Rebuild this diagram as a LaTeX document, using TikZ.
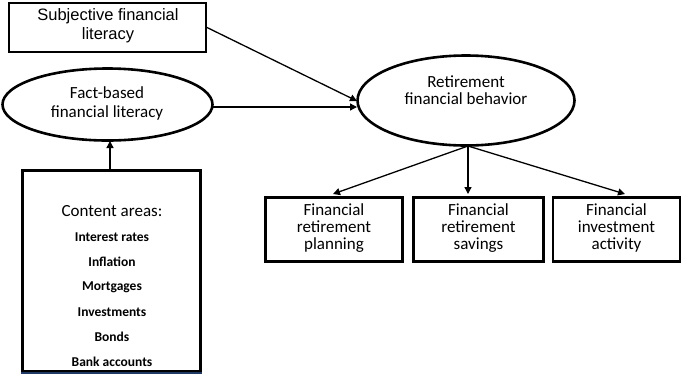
\documentclass[tikz,border=0pt]{standalone}
\usepackage{fontspec}
\setmainfont{Carlito}
\newfontfamily\arialfont{Liberation Sans}
\usetikzlibrary{arrows.meta,shapes.geometric}
\definecolor{navy}{HTML}{1F3864}
\begin{document}
\begin{tikzpicture}[x=1pt,y=-1pt,
  box/.style={draw,line width=2.4pt,inner sep=0pt},
  ell/.style={draw,line width=2.6pt,ellipse,inner sep=0pt},
  conn/.style={line width=1.3pt,-{Triangle[length=7pt,width=7pt]}},
  bigtxt/.style={font=\fontsize{17}{17}\selectfont,align=center},
  itemtxt/.style={font=\fontsize{13.5}{13.5}\selectfont\bfseries}]
\useasboundingbox (0,0) rectangle (685,373);
% Subjective box
\node[box,minimum width=197pt,minimum height=49pt] (subj) at (107.5,27.5) {};
\node[font=\arialfont\fontsize{16.5}{19}\selectfont,align=center] (subjt) at (108,26) {Subjective financial\\literacy};
% Fact-based ellipse
\node[ell,minimum width=210pt,minimum height=72pt] (fact) at (107.5,104.5) {};
\node[font=\fontsize{17}{19}\selectfont,align=center] (factt) at (107,103) {Fact-based\\financial literacy};
% Retirement ellipse
\node[ell,minimum width=217pt,minimum height=90pt] (ret) at (466,100.5) {};
\node[font=\fontsize{17}{17}\selectfont,align=center] (rett) at (466,90) {Retirement\\financial behavior};
% Content box
\node[box,minimum width=178pt,minimum height=201pt] (cont) at (111.5,271) {};
\draw[navy,line width=2.4pt] (cont.south west) -- (cont.south east);
\node[font=\fontsize{17}{17}\selectfont] (ca) at (112,211) {Content areas:};
\node[itemtxt] (i1) at (112,237) {Interest rates};
\node[itemtxt] (i2) at (112,262) {Inflation};
\node[itemtxt] (i3) at (112,287) {Mortgages};
\node[itemtxt] (i4) at (112,312) {Investments};
\node[itemtxt] (i5) at (112,337) {Bonds};
\node[itemtxt] (i6) at (112,361.5) {Bank accounts};
% Bottom boxes
\node[box,minimum width=137pt,minimum height=64pt] (b1) at (334,229.5) {};
\node[bigtxt] (b1t) at (334,228) {Financial\\retirement\\planning};
\node[box,minimum width=130pt,minimum height=64pt] (b2) at (478.5,229.5) {};
\node[bigtxt] (b2t) at (478.5,228) {Financial\\retirement\\savings};
\node[box,minimum width=127pt,minimum height=64pt] (b3) at (616.5,229.5) {};
\node[bigtxt] (b3t) at (616.5,228) {Financial\\investment\\activity};
% Connectors
\coordinate (s1) at (206,27);
\coordinate (e1) at (357,101);
\coordinate (f1) at (213,107);
\coordinate (e2) at (357,107);
\coordinate (r0) at (468,146);
\coordinate (t1) at (333,194);
\coordinate (t2) at (468,194);
\coordinate (t3) at (625,194);
\coordinate (c0) at (110,170);
\coordinate (c1) at (110,141);
\draw[conn] (s1) -- (e1);
\draw[conn] (f1) -- (e2);
\draw[conn] (r0) -- (t1);
\draw[conn] (r0) -- (t2);
\draw[conn] (r0) -- (t3);
\draw[conn] (c0) -- (c1);
\end{tikzpicture}
\end{document}
